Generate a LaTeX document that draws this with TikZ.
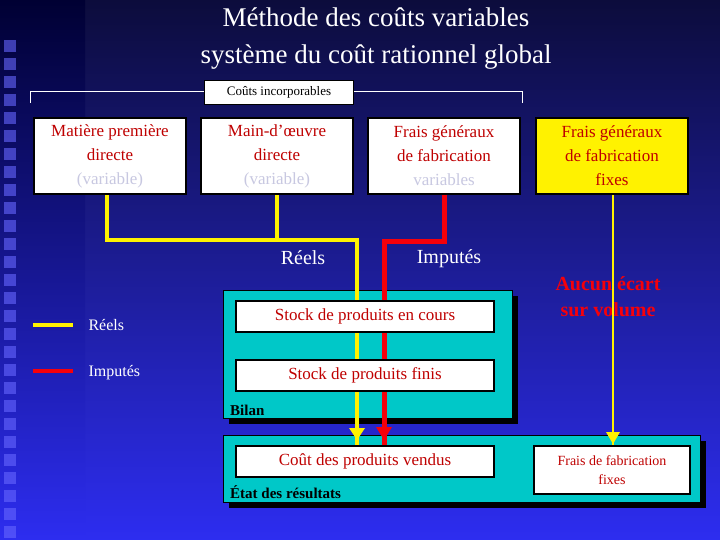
\documentclass[tikz,border=0pt]{standalone}
\usepackage{fontspec}
\setmainfont{Liberation Serif}
\begin{document}
\begin{tikzpicture}[x=1pt,y=-1pt,
  top/.style={draw=black,line width=2.5pt,fill=white,minimum width=152pt,minimum height=76pt,align=center,text=red!75!black,font=\fontsize{17}{24}\selectfont},
  sbox/.style={draw=black,line width=2pt,fill=white,minimum width=258pt,minimum height=31pt,text=red!75!black,font=\fontsize{17}{20}\selectfont},
  cyanbox/.style={draw=black,line width=1.2pt,fill=turq},
  yl/.style={yellow,line width=4pt},
  rl/.style={red!85!purple,line width=5pt},
  wt/.style={text=white,font=\fontsize{20}{22}\selectfont}]
\definecolor{bgtop}{RGB}{12,12,60}
\definecolor{bgbot}{RGB}{45,45,240}
\definecolor{grey}{RGB}{200,200,225}
\definecolor{turq}{RGB}{0,200,200}
\shade[top color=bgtop,bottom color=bgbot] (0,0) rectangle (720,540);
\useasboundingbox (0,0) rectangle (720,540);
\shade[top color=black!80!blue,bottom color=bgbot] (0,0) rectangle (85,540);
\foreach \i in {0,...,28}{\fill[blue!60!white,opacity=0.6] (4,40+\i*18) rectangle (16,52+\i*18);}
% title
\node[text=white,font=\fontsize{27}{37}\selectfont,align=center] (title) at (376,39) {Méthode des coûts variables\\système du coût rationnel global};
% bracket
\draw[white,line width=1pt] (30,103) -- (30,92) -- (522,92) -- (522,103);
\node[draw=black,fill=white,minimum width=149pt,minimum height=24pt,inner sep=0pt,font=\fontsize{13}{14}\selectfont] (ci) at (279,92) {Coûts incorporables};
% top boxes
\node[top] (mp) at (110,156) {Matière première\\directe\\\textcolor{grey}{(variable)}};
\node[top] (mo) at (277,156) {Main-d’œuvre\\directe\\\textcolor{grey}{(variable)}};
\node[top] (fv) at (444,156) {Frais généraux\\de fabrication\\\textcolor{grey}{variables}};
\node[top,fill=yellow] (ff) at (612,156) {Frais généraux\\de fabrication\\fixes};
% cyan boxes with shadow
\fill[black] (229,296) rectangle (518,424);
\node[cyanbox,minimum width=289pt,minimum height=128pt,anchor=north west] (bilan) at (223,290) {};
\fill[black] (229,441) rectangle (706,508);
\node[cyanbox,minimum width=477pt,minimum height=67pt,anchor=north west] (etat) at (223,435) {};
% lines
\coordinate (j1) at (107,240); \coordinate (j2) at (357,240);
\coordinate (r1) at (444,241); \coordinate (r2) at (384,241);
\coordinate (ya) at (357,437); \coordinate (ra) at (384,437); \coordinate (fa) at (613,444);
\draw[yl] (mp.south -| j1) -- (j1) -- (j2) -- ([yshift=-8pt]ya);
\draw[yl] (mo.south) -- (mo.south |- j1);
\fill[yellow] (349,428) -- (365,428) -- (357,440) -- cycle;
\draw[rl] (fv.south) -- (r1) -- (r2) -- ([yshift=-8pt]ra);
\fill[red!85!purple] (376,427) -- (392,427) -- (384,440) -- cycle;
% texts
\node[wt] (reels) at (303,258) {Réels};
\node[wt] (imp) at (449,259) {Imputés};
\node[text=red!85!purple,font=\bfseries\fontsize{20}{26}\selectfont,align=center] (auc) at (608,297) {Aucun écart\\sur volume};
\draw[yellow,line width=2pt] (ff.south -| fa) -- ([yshift=-10pt]fa);
\fill[yellow] (606,432) -- (620,432) -- (613,444) -- cycle;
% inner boxes
\node[sbox] (sc) at (365,316) {Stock de produits en cours};
\node[sbox] (sf) at (365,375) {Stock de produits finis};
\node[sbox] (cv) at (365,461) {Coût des produits vendus};
\node[draw=black,line width=2pt,fill=white,minimum width=156pt,minimum height=48pt,align=center,text=red!75!black,font=\fontsize{14}{19}\selectfont] (fx) at (612,470) {Frais de fabrication\\fixes};
\node[anchor=west,font=\bfseries\fontsize{15}{16}\selectfont,inner sep=0pt] (bl) at (230,410) {Bilan};
\node[anchor=west,font=\bfseries\fontsize{15}{16}\selectfont,inner sep=0pt] (er) at (230,492) {État des résultats};
% legend
\draw[yellow,line width=4pt] (33,325) coordinate (l1a) -- (73,325) coordinate (l1b);
\draw[red!85!purple,line width=4pt] (33,371) coordinate (l2a) -- (73,371) coordinate (l2b);
\node[anchor=west,text=white,font=\fontsize{16}{18}\selectfont] (lr) at (85,325) {Réels};
\node[anchor=west,text=white,font=\fontsize{16}{18}\selectfont] (li) at (85,373) {Imputés};
\end{tikzpicture}
\end{document}
